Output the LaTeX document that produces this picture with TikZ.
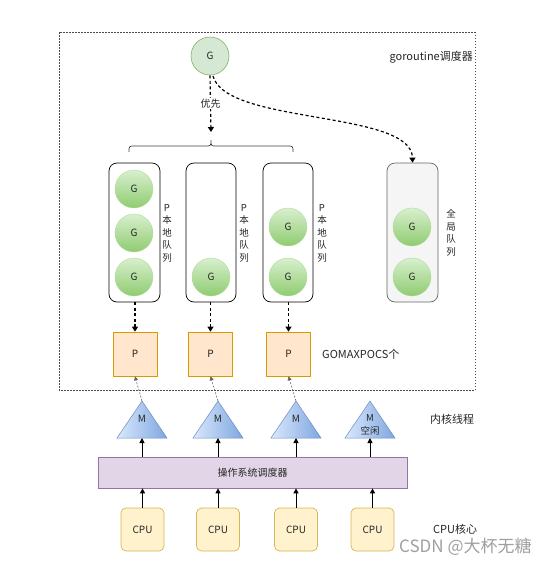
\documentclass[tikz,border=0pt]{standalone}
\usepackage{fontspec}
\setmainfont{Noto Sans CJK SC}
\usetikzlibrary{arrows.meta}
\definecolor{gstroke}{HTML}{82B366}
\definecolor{gfill}{HTML}{D5E8D4}
\definecolor{gtop}{HTML}{D8F0CE}
\definecolor{gbot}{HTML}{8FCB70}
\definecolor{pfill}{HTML}{FFE6CC}
\definecolor{pstroke}{HTML}{D79B00}
\definecolor{mleft}{HTML}{DAE8FC}
\definecolor{mright}{HTML}{7EA6E0}
\definecolor{mstroke}{HTML}{6C8EBF}
\definecolor{osfill}{HTML}{E1D5E7}
\definecolor{osstroke}{HTML}{9673A6}
\definecolor{cpufill}{HTML}{FFF2CC}
\definecolor{cpustroke}{HTML}{D6B656}
\definecolor{gqfill}{HTML}{F5F5F5}
\definecolor{gqstroke}{HTML}{666666}
\tikzset{
  x=1pt, y=-1pt,
  every node/.style={font=\fontsize{10}{12}\selectfont, text=black!85, inner sep=0pt},
  sidelabel/.style={anchor=west, font=\fontsize{11}{13}\selectfont},
  gball/.style={circle, minimum size=38pt, top color=gtop, bottom color=gbot, draw=gbot!70, line width=0.4pt},
  queue/.style={draw=black, rounded corners=8pt, minimum height=139pt, line width=0.7pt},
  gqueue/.style={draw=gqstroke, fill=gqfill, rounded corners=8pt, minimum height=139pt, minimum width=51pt, line width=0.7pt},
  pbox/.style={draw=pstroke, fill=pfill, minimum size=44pt, line width=0.7pt},
  cpubox/.style={draw=cpustroke, fill=cpufill, rounded corners=5pt, minimum width=43pt, minimum height=43pt, line width=0.7pt},
  vlabel/.style={align=center, font=\fontsize{9.5}{12.5}\selectfont},
  dasharrow/.style={line width=1.2pt, dash pattern=on 3pt off 2.5pt, -{Triangle[length=5pt,width=6pt]}},
  thinarrow/.style={gray!80!black, line width=0.6pt, dash pattern=on 2pt off 1.5pt, -{Triangle[length=4pt,width=4pt]}},
  solidarrow/.style={black, line width=1pt, -{Triangle[length=5pt,width=5pt]}},
  mtri/.style={left color=mleft, right color=mright, draw=mstroke, line width=0.5pt},
}
\begin{document}
\begin{tikzpicture}
\useasboundingbox (0,0) rectangle (551,566);
% outer dashed frame
\draw[gray!60!black, line width=0.6pt, dash pattern=on 1.5pt off 1.5pt] (59,32) rectangle (475,390);
\node[sidelabel, anchor=east] (sched) at (473,57) {goroutine调度器};

% top G
\node[circle, minimum size=38pt, fill=gfill, draw=gstroke, line width=0.6pt] (gtop) at (210,56) {G};

% brace
\draw[black!75, line width=0.7pt] (129,152) .. controls (129,146) .. (135,146) -- (205,146) .. controls (211,146) .. (211,140) .. controls (211,146) .. (217,146) -- (287,146) .. controls (293,146) .. (293,152);
\coordinate (bracetip) at (211,132);

% local queues
\node[queue, minimum width=51pt] (q1) at (134.5,232.5) {};
\node[queue, minimum width=50pt] (q2) at (211,232.5) {};
\node[queue, minimum width=50pt] (q3) at (288,232.5) {};
\node[gqueue] (gq) at (412.5,232.5) {};

\node[gball] (g11) at (134,189) {G};
\node[gball] (g12) at (134,233) {G};
\node[gball] (g13) at (134,277) {G};
\node[gball] (g21) at (211,277) {G};
\node[gball] (g31) at (288,227) {G};
\node[gball] (g32) at (288,277) {G};
\node[gball] (gg1) at (412,227) {G};
\node[gball] (gg2) at (412,277) {G};

\node[vlabel] (l1) at (167,233) {P\\本\\地\\队\\列};
\node[vlabel] (l2) at (244,233) {P\\本\\地\\队\\列};
\node[vlabel] (l3) at (322,233) {P\\本\\地\\队\\列};
\node[vlabel] (lg) at (451,233) {全\\局\\队\\列};

% arrows from top G
\draw[dasharrow] (gtop.south) -- node[fill=white, inner sep=1pt, font=\fontsize{10}{11}\selectfont] (prio) {优先} (bracetip);
\draw[dasharrow] (213,76) .. controls (226,125) and (412,110) .. (gq.north);

% P boxes
\node[pbox] (p1) at (135,354) {P};
\node[pbox] (p2) at (210.5,354) {P};
\node[pbox] (p3) at (288.5,354) {P};
\node[sidelabel] (gmp) at (322,354) {GOMAXPOCS个};

\draw[dasharrow] (q1.south -| p1) -- (p1.north);
\draw[dasharrow] (q2.south -| p2) -- (p2.north);
\draw[dasharrow] (q3.south -| p3) -- (p3.north);

% M triangles
\foreach \i/\cx in {1/142, 2/218, 3/296, 4/370}{
  \path[mtri] (\cx-25,438) -- (\cx,401) -- (\cx+25,438) -- cycle;
  \coordinate (mtop\i) at (\cx,401);
  \coordinate (mbot\i) at (\cx,438);
}
\node (m1) at (142,419) {M};
\node (m2) at (218,419) {M};
\node (m3) at (296,419) {M};
\node[align=center, font=\fontsize{9.5}{13}\selectfont] (m4) at (370,425) {M\\空闲};
\node[sidelabel] (kt) at (430,419) {内核线程};

\draw[thinarrow] (mtop1) -- (p1.south);
\draw[thinarrow] (mtop2) -- (p2.south);
\draw[thinarrow] (mtop3) -- (p3.south);

% OS scheduler
\node[draw=osstroke, fill=osfill, minimum width=309pt, minimum height=31pt, line width=0.7pt] (os) at (252.5,472.5) {操作系统调度器};
\foreach \i/\cx in {1/142, 2/218, 3/296, 4/369}{
  \draw[solidarrow] (os.north -| mtop\i) -- (mbot\i);
}

% CPUs
\node[cpubox] (c1) at (142.5,529.5) {CPU};
\node[cpubox] (c2) at (218,529.5) {CPU};
\node[cpubox] (c3) at (296,529.5) {CPU};
\node[cpubox] (c4) at (372.5,529.5) {CPU};
\node[sidelabel] (cpuk) at (433,529) {CPU核心};

\foreach \i in {1,2,3}{
  \draw[solidarrow] (c\i.north) -- (os.south -| c\i);
}
\draw[solidarrow] (c4.north) -- (os.south -| c4);

% watermark
\node[anchor=west, text=gray!75, font=\fontsize{17}{18}\selectfont] (wm) at (399,547) {CSDN @大杯无糖};
\end{tikzpicture}
\end{document}
